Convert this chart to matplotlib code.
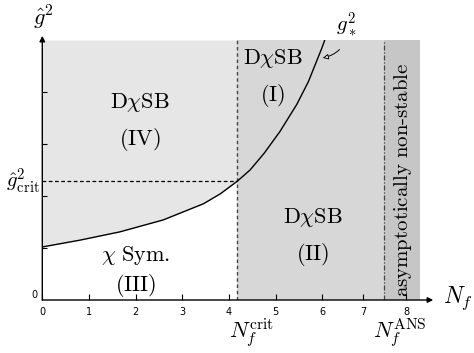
import matplotlib
matplotlib.use("Agg")
import matplotlib.pyplot as plt
import numpy as np

plt.rcParams['mathtext.fontset'] = 'cm'

# data
curve_nf = [0.0, 0.8, 1.66, 2.59, 3.45, 3.81, 4.17, 4.45, 4.75, 5.09, 5.45, 5.70, 5.99, 6.05]
curve_g2 = [1.02, 1.15, 1.31, 1.54, 1.85, 2.04, 2.28, 2.50, 2.82, 3.24, 3.76, 4.20, 4.85, 5.00]
nf_crit = 4.17
nf_ans = 7.31
g2_crit = 2.28
x_max = 8.09
y_max = 5.0
xtick_pos = [0, 1, 2, 3, 4, 5, 6, 6.87, 7.79]
xtick_labels = ['0', '1', '2', '3', '4', '5', '6', '7', '8']
yticks = [1, 2, 3, 4]

W, H = 474, 353
fig = plt.figure(figsize=(W/100, H/100), dpi=100)
ax = fig.add_axes([42.3/W, (H-300)/H, (420-42.3)/W, (300-40)/H])
ax.set_xlim(0, x_max)
ax.set_ylim(0, y_max)
for s in ax.spines.values():
    s.set_visible(False)

c_iv = '#e6e6e6'
c_mid = '#d7d7d7'
c_ns = '#c6c6c6'

cn = np.array(curve_nf)
cg = np.array(curve_g2)
mask = cn <= nf_crit + 1e-9
ax.fill_between(cn[mask], cg[mask], y_max, color=c_iv, lw=0, zorder=1)
ax.axvspan(nf_crit, nf_ans, color=c_mid, lw=0, zorder=1)
ax.axvspan(nf_ans, x_max, color=c_ns, lw=0, zorder=1)

ax.plot(cn, cg, color='black', lw=1.0, zorder=3)
ax.plot([nf_crit, nf_crit], [0, y_max], color='#444444', lw=1.0, ls=(0, (2.5, 2)), zorder=2)
ax.plot([nf_ans, nf_ans], [0, y_max], color='#444444', lw=0.9, ls=(0, (4, 1.5, 1, 1.5)), zorder=2)
ax.plot([0, nf_crit], [g2_crit, g2_crit], color='black', lw=0.9, ls=(0, (3, 2)), zorder=2)

# axes with arrows
ax.annotate('', xy=(0, 1.016), xycoords='axes fraction', xytext=(0, 0),
            arrowprops=dict(arrowstyle='-|>', color='black', lw=1.0, mutation_scale=8, shrinkA=0, shrinkB=0), zorder=4)
ax.annotate('', xy=(1.035, 0), xycoords='axes fraction', xytext=(0, 0),
            arrowprops=dict(arrowstyle='-|>', color='black', lw=1.0, mutation_scale=8, shrinkA=0, shrinkB=0), zorder=4)

ax.set_xticks(xtick_pos)
ax.set_xticklabels(xtick_labels, fontsize=7, family='DejaVu Sans')
ax.set_yticks(yticks)
ax.set_yticklabels([])
ax.tick_params(axis='x', direction='in', length=4, width=0.8, pad=5)
ax.tick_params(axis='y', direction='in', length=3.5, width=0.8)

ts = 16
ax.text(2.09, 3.79, r'$\mathrm{D}\chi\mathrm{SB}$', fontsize=ts, ha='center', va='center', zorder=5)
ax.text(2.09, 3.08, r'$\mathrm{(IV)}$', fontsize=ts, ha='center', va='center', zorder=5)
ax.text(2.0, 0.85, r'$\chi\ \mathrm{Sym.}$', fontsize=ts, ha='center', va='center', zorder=5)
ax.text(2.0, 0.27, r'$\mathrm{(III)}$', fontsize=ts, ha='center', va='center', zorder=5)
ax.text(4.94, 4.65, r'$\mathrm{D}\chi\mathrm{SB}$', fontsize=ts, ha='center', va='center', zorder=5)
ax.text(4.94, 3.94, r'$\mathrm{(I)}$', fontsize=ts, ha='center', va='center', zorder=5)
ax.text(5.79, 1.58, r'$\mathrm{D}\chi\mathrm{SB}$', fontsize=ts, ha='center', va='center', zorder=5)
ax.text(5.79, 0.87, r'$\mathrm{(II)}$', fontsize=ts, ha='center', va='center', zorder=5)
ax.text(7.73, 2.31, r'$\mathrm{asymptotically\ non\text{-}stable}$', fontsize=15,
        rotation=90, ha='center', va='center', zorder=5)

ax.text(-0.06, g2_crit, r'$\hat{g}^2_{\mathrm{crit}}$', fontsize=15, ha='right', va='center', clip_on=False)
ax.text(-0.1, 0.0, '0', fontsize=7, ha='right', va='bottom', family='DejaVu Sans', clip_on=False)
ax.text(0.03, 5.42, r'$\hat{g}^2$', fontsize=16, ha='center', va='center', clip_on=False)
ax.text(8.9, 0.03, r'$N_f$', fontsize=17, ha='center', va='center', clip_on=False)
ax.text(4.0, -0.73, r'$N_f^{\mathrm{crit}}$', fontsize=16, ha='left', va='baseline', clip_on=False)
ax.text(7.09, -0.73, r'$N_f^{\mathrm{ANS}}$', fontsize=16, ha='left', va='baseline', clip_on=False)

ax.annotate(r'$g_*^2$', xy=(5.98, 4.65), xytext=(6.52, 5.3), fontsize=15,
            ha='center', va='center', annotation_clip=False,
            arrowprops=dict(arrowstyle='-|>', color='black', lw=0.7, fc='white',
                            mutation_scale=8, connectionstyle='arc3,rad=-0.45',
                            shrinkA=7, shrinkB=1))

fig.savefig('out.png', dpi=100)
